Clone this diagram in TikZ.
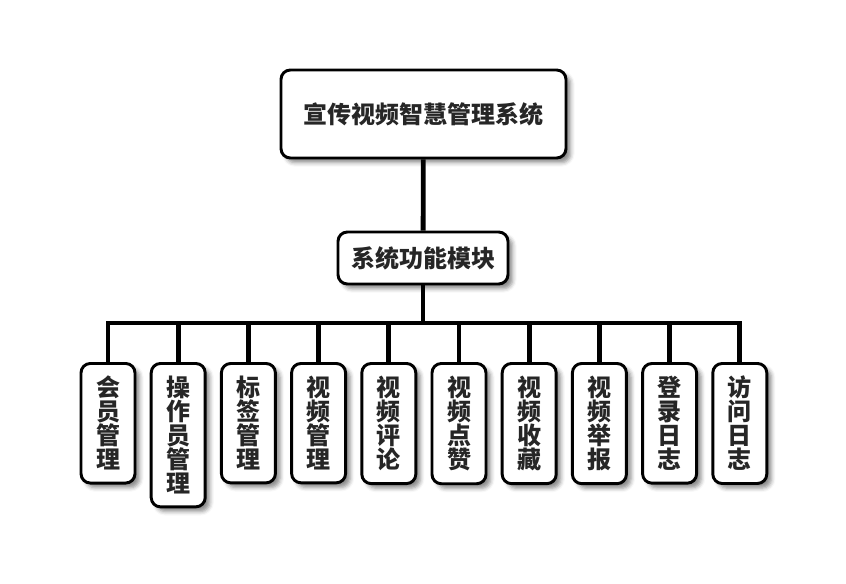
\documentclass[tikz,border=0pt]{standalone}
\usepackage{fontspec}
\newfontfamily\cjk{Noto Sans CJK SC}
\usetikzlibrary{shadows.blur,backgrounds}

\begin{document}
\begin{tikzpicture}[x=0.75pt,y=-0.75pt,
        box/.style={draw=black, line width=2.2pt, fill=white, rounded corners=7pt,
            blur shadow={shadow xshift=3.5pt, shadow yshift=-3.5pt, shadow blur radius=3pt, shadow opacity=45},
            text=black!85, font=\cjk\bfseries\fontsize{18}{18}\selectfont, align=center},
        leafbox/.style={box, minimum width=40.5pt, inner xsep=0pt, inner ysep=9.5pt, anchor=north},
        link/.style={line width=3.6pt}]
        \useasboundingbox (0,0) rectangle (846,583);

        % Nodi principali
        \node[box, minimum width=213.75pt, minimum height=66pt] (sys) at (423.5,114) {宣传视频智慧管理系统};
        \node[box, minimum width=127.5pt, minimum height=39pt] (mod) at (423,258) {系统功能模块};
        \coordinate (hub) at (423,323);

        % Moduli
        \foreach \txt [count=\i] in {{会\\员\\管\\理},{操\\作\\员\\管\\理},{标\\签\\管\\理},{视\\频\\管\\理},{视\\频\\评\\论},
                {视\\频\\点\\赞},{视\\频\\收\\藏},{视\\频\\举\\报},{登\\录\\日\\志},{访\\问\\日\\志}}
            \node[leafbox] (leaf\i) at ({108+70.2*(\i-1)},362) {\txt};

        % Collegamenti
        \begin{scope}[on background layer]
            \draw[link] (sys) -- (mod);
            \draw[link] (mod) -- (hub);
            \foreach \i in {1,...,10}
                \draw[link] (hub) -| (leaf\i.north);
        \end{scope}
    \end{tikzpicture}
\end{document}
